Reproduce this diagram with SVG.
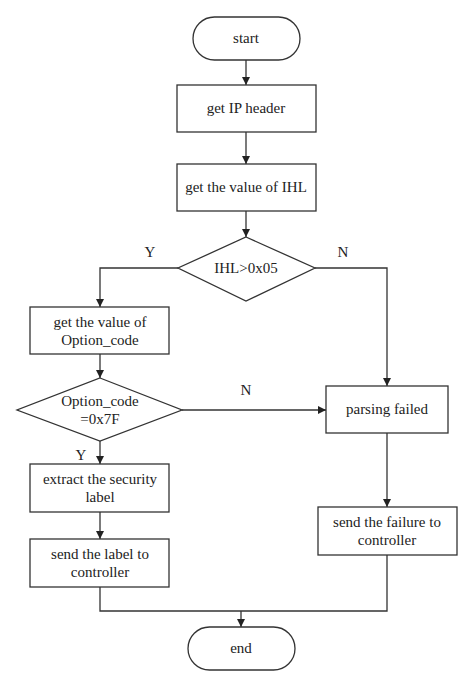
<svg xmlns="http://www.w3.org/2000/svg" width="474" height="687" viewBox="0 0 474 687">
<style>
.n{fill:#fff;stroke:#333;stroke-width:1.3}
.c{fill:none;stroke:#333;stroke-width:1.3}
text{font-family:"Liberation Serif","Times New Roman",serif;font-size:15px;fill:#222;text-anchor:middle}
</style>
<defs>
<marker id="a" viewBox="0 0 10 10" refX="10" refY="5" markerWidth="8" markerHeight="8" markerUnits="userSpaceOnUse" orient="auto">
<path d="M0,0L10,5L0,10z" fill="#222"/>
</marker>
</defs>
<rect width="474" height="687" fill="#fff"/>
<g id="connectors">
<path class="c" d="M246,60V85" marker-end="url(#a)"/>
<path class="c" d="M246,132V164" marker-end="url(#a)"/>
<path class="c" d="M246,211V237" marker-end="url(#a)"/>
<path class="c" d="M178,268H100V307" marker-end="url(#a)"/>
<path class="c" d="M315,268H387V386" marker-end="url(#a)"/>
<path class="c" d="M100,354V378" marker-end="url(#a)"/>
<path class="c" d="M182,410H326" marker-end="url(#a)"/>
<path class="c" d="M100,441V464" marker-end="url(#a)"/>
<path class="c" d="M100,512V539" marker-end="url(#a)"/>
<path class="c" d="M387,433V507" marker-end="url(#a)"/>
<path class="c" d="M100,587V611H387V555"/>
<path class="c" d="M241,611V627" marker-end="url(#a)"/>
<text x="150" y="257">Y</text>
<text x="343" y="257">N</text>
<text x="246" y="395">N</text>
<text x="81" y="460">Y</text>
</g>
<g id="start">
<rect class="n" x="193" y="17" width="107" height="43" rx="21.5"/>
<text x="246" y="43">start</text>
</g>
<g id="get_ip_header">
<rect class="n" x="177" y="85" width="139" height="47"/>
<text x="246" y="113">get IP header</text>
</g>
<g id="get_ihl">
<rect class="n" x="177" y="164" width="139" height="47"/>
<text x="246" y="192">get the value of IHL</text>
</g>
<g id="ihl_check">
<path class="n" d="M246,237L315,268L246,301L178,268z"/>
<text x="246" y="273">IHL&gt;0x05</text>
</g>
<g id="get_option_code">
<rect class="n" x="30" y="307" width="139" height="47"/>
<text x="100" y="327">get the value of</text>
<text x="100" y="345">Option_code</text>
</g>
<g id="option_check">
<path class="n" d="M100,378L182,410L100,441L17,410z"/>
<text x="100" y="406">Option_code</text>
<text x="100" y="424">=0x7F</text>
</g>
<g id="parsing_failed">
<rect class="n" x="326" y="386" width="122" height="47"/>
<text x="387" y="414">parsing failed</text>
</g>
<g id="extract_label">
<rect class="n" x="30" y="464" width="139" height="48"/>
<text x="100" y="484">extract the security</text>
<text x="100" y="502">label</text>
</g>
<g id="send_label">
<rect class="n" x="30" y="539" width="139" height="48"/>
<text x="100" y="559">send the label to</text>
<text x="100" y="577">controller</text>
</g>
<g id="send_failure">
<rect class="n" x="318" y="507" width="139" height="48"/>
<text x="387" y="527">send the failure to</text>
<text x="387" y="545">controller</text>
</g>
<g id="end">
<rect class="n" x="188" y="627" width="107" height="43" rx="21.5"/>
<text x="241" y="653">end</text>
</g>
</svg>
